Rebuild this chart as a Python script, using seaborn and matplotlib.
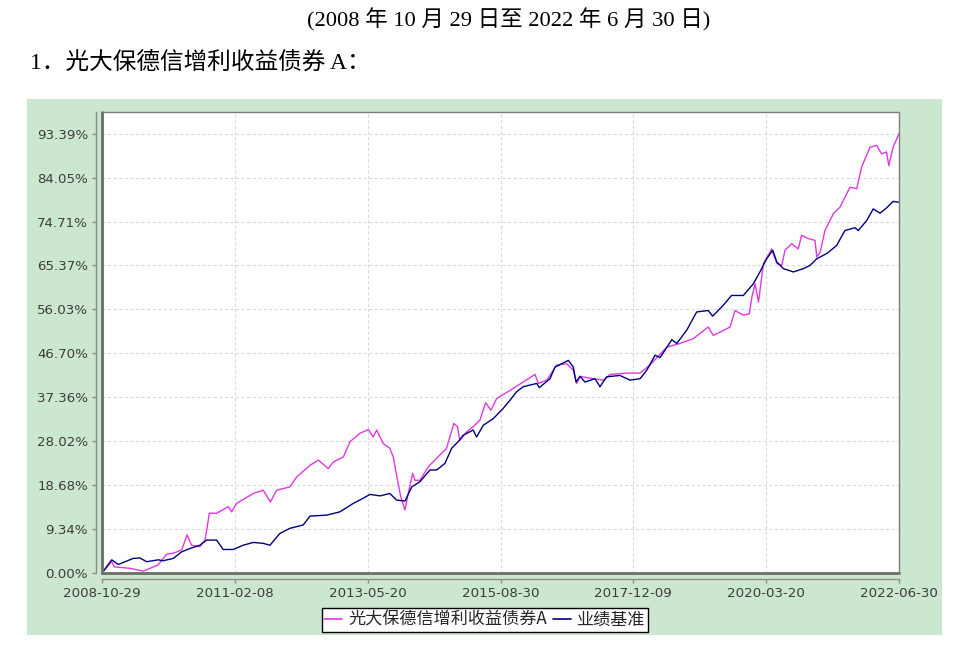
import pandas as pd
import matplotlib
matplotlib.use('Agg')
import matplotlib.pyplot as plt
import seaborn as sns
from matplotlib.patches import Rectangle
from matplotlib.lines import Line2D

# series names
fund_name = '光大保德信增利收益债券A'
bench_name = '业绩基准'

# cumulative return of the fund (%)
fund_dates = ['2008-10-29', '2008-12-29', '2009-01-15', '2009-04-20', '2009-07-15', '2009-10-15',
              '2009-12-08', '2010-01-18', '2010-03-12', '2010-04-15', '2010-05-13', '2010-07-04',
              '2010-08-05', '2010-08-19', '2010-09-01', '2010-10-17', '2010-12-29', '2011-01-19',
              '2011-02-19', '2011-06-03', '2011-08-05', '2011-09-19', '2011-10-27', '2012-01-19',
              '2012-03-01', '2012-05-24', '2012-07-15', '2012-09-15', '2012-10-17', '2012-12-19',
              '2013-01-29', '2013-04-01', '2013-05-24', '2013-06-24', '2013-07-15', '2013-08-26',
              '2013-10-06', '2013-10-27', '2013-11-11', '2013-11-27', '2013-12-13', '2014-01-09',
              '2014-01-29', '2014-02-26', '2014-03-12', '2014-04-12', '2014-06-04', '2014-07-26',
              '2014-09-26', '2014-11-11', '2014-12-04', '2014-12-18', '2015-01-30', '2015-03-12',
              '2015-04-23', '2015-05-29', '2015-07-01', '2015-08-06', '2015-10-28', '2016-01-19',
              '2016-04-02', '2016-04-23', '2016-06-15', '2016-08-16', '2016-10-18', '2016-11-28',
              '2016-12-19', '2017-01-09', '2017-04-02', '2017-06-05', '2017-07-16', '2017-10-29',
              '2018-01-20', '2018-03-23', '2018-07-06', '2018-09-27', '2018-12-19', '2019-03-23',
              '2019-04-24', '2019-06-05', '2019-08-07', '2019-09-07', '2019-10-29', '2019-12-05',
              '2019-12-22', '2020-01-11', '2020-02-01', '2020-03-03', '2020-04-13', '2020-04-23',
              '2020-05-26', '2020-06-26', '2020-07-16', '2020-08-27', '2020-10-07', '2020-10-28',
              '2020-12-08', '2021-01-20', '2021-01-31', '2021-02-21', '2021-03-23', '2021-05-15',
              '2021-06-26', '2021-08-27', '2021-10-08', '2021-11-08', '2021-12-30', '2022-02-10',
              '2022-03-13', '2022-04-13', '2022-04-27', '2022-05-24', '2022-06-30']
fund_values = [0.0, 2.4, 1.3, 1.0, 0.4, 1.7,
               4.0, 4.2, 4.9, 8.1, 5.9, 5.6,
               7.0, 9.8, 12.7, 12.7, 14.1, 13.0,
               14.8, 16.9, 17.6, 15.1, 17.6, 18.3,
               20.4, 22.9, 24.0, 22.2, 23.6, 24.7,
               27.9, 29.7, 30.5, 28.9, 30.4, 27.5,
               26.5, 24.7, 21.9, 19.0, 16.2, 13.4,
               16.9, 21.2, 19.7, 19.7, 22.6, 24.4,
               26.5, 31.8, 31.1, 28.2, 30.0, 31.1,
               32.5, 36.2, 34.6, 37.1, 38.8, 40.6,
               42.2, 40.3, 41.0, 44.2, 44.5, 43.1,
               40.3, 41.8, 41.3, 41.0, 42.2, 42.5,
               42.5, 44.2, 48.0, 48.8, 49.8, 52.3,
               50.5, 51.2, 52.3, 55.8, 54.8, 55.1,
               58.7, 61.5, 57.6, 65.8, 68.2, 68.9,
               65.8, 65.4, 68.6, 70.0, 68.9, 71.8,
               71.1, 70.7, 67.2, 68.2, 72.8, 76.4,
               77.8, 82.0, 81.7, 86.3, 90.5, 90.9,
               89.1, 89.5, 86.6, 90.5, 93.4]

# cumulative return of the benchmark (%)
bench_dates = ['2008-10-29', '2008-12-29', '2009-02-08', '2009-05-12', '2009-06-23', '2009-08-05',
               '2009-10-16', '2009-11-16', '2010-01-18', '2010-03-12', '2010-05-02', '2010-07-04',
               '2010-08-15', '2010-10-17', '2010-11-27', '2011-01-28', '2011-04-01', '2011-06-03',
               '2011-08-05', '2011-09-16', '2011-11-17', '2012-01-19', '2012-04-11', '2012-05-24',
               '2012-09-05', '2012-11-27', '2013-02-19', '2013-04-22', '2013-06-03', '2013-08-05',
               '2013-10-06', '2013-11-17', '2014-01-09', '2014-02-20', '2014-04-12', '2014-06-14',
               '2014-07-26', '2014-09-16', '2014-10-28', '2014-12-07', '2015-01-09', '2015-03-12',
               '2015-04-02', '2015-05-14', '2015-07-15', '2015-09-16', '2015-10-28', '2015-12-08',
               '2016-01-19', '2016-04-13', '2016-04-29', '2016-07-05', '2016-08-06', '2016-10-28',
               '2016-11-28', '2016-12-15', '2017-01-09', '2017-02-09', '2017-04-13', '2017-05-14',
               '2017-06-25', '2017-09-16', '2017-11-18', '2018-01-20', '2018-03-03', '2018-04-24',
               '2018-05-26', '2018-08-07', '2018-09-07', '2018-11-08', '2019-01-10', '2019-03-23',
               '2019-04-20', '2019-06-25', '2019-08-16', '2019-10-29', '2019-12-31', '2020-02-10',
               '2020-03-23', '2020-04-30', '2020-05-26', '2020-07-06', '2020-09-07', '2020-11-08',
               '2020-12-20', '2021-01-31', '2021-04-03', '2021-06-04', '2021-07-26', '2021-09-27',
               '2021-10-18', '2021-12-09', '2022-01-20', '2022-03-03', '2022-04-13', '2022-05-24',
               '2022-06-30']
bench_values = [0.0, 2.8, 1.8, 3.1, 3.2, 2.4,
                2.8, 2.6, 3.1, 4.5, 5.2, 5.9,
                7.0, 7.0, 5.0, 5.0, 5.9, 6.5,
                6.3, 5.9, 8.4, 9.5, 10.2, 12.1,
                12.3, 13.0, 14.8, 15.9, 16.7, 16.4,
                16.9, 15.5, 15.3, 18.3, 19.4, 21.9,
                21.9, 23.3, 26.5, 27.9, 29.3, 30.4,
                28.9, 31.4, 32.8, 35.0, 36.7, 38.5,
                39.6, 40.3, 39.4, 41.3, 43.8, 45.2,
                43.8, 40.6, 41.8, 40.6, 41.3, 39.6,
                41.7, 42.0, 41.0, 41.3, 43.1, 46.3,
                45.8, 49.6, 48.8, 51.6, 55.5, 55.8,
                54.6, 56.9, 59.0, 59.0, 61.5, 64.0,
                66.8, 68.6, 66.1, 64.7, 64.0, 64.7,
                65.4, 66.8, 67.9, 69.6, 72.8, 73.4,
                72.8, 74.9, 77.4, 76.5, 77.6, 79.0,
                78.8]

# axis ticks
x_tick_dates = ['2008-10-29', '2011-02-08', '2013-05-20', '2015-08-30', '2017-12-09', '2020-03-20', '2022-06-30']
y_tick_values = [0.0, 9.339, 18.678, 28.017, 37.356, 46.695, 56.034, 65.373, 74.712, 84.051, 93.39]
y_tick_labels = ['0.00%', '9.34%', '18.68%', '28.02%', '37.36%', '46.70%', '56.03%',
                 '65.37%', '74.71%', '84.05%', '93.39%']

df = pd.concat([
    pd.DataFrame({'date': pd.to_datetime(fund_dates), 'value': fund_values, 'series': fund_name}),
    pd.DataFrame({'date': pd.to_datetime(bench_dates), 'value': bench_values, 'series': bench_name}),
])

sns.set_theme(style='white')
plt.rcParams['font.family'] = ['DejaVu Sans', 'Noto Sans CJK SC']

W, H = 975, 665
fig = plt.figure(figsize=(W / 100, H / 100), dpi=100, facecolor='white')

# light green panel behind the chart
fig.patches.append(Rectangle((27 / W, 1 - 635 / H), (942 - 27) / W, (635 - 99) / H,
                             transform=fig.transFigure, facecolor='#cce7cf', edgecolor='none', zorder=-10))

serif_cjk = ['Liberation Serif', 'Noto Sans CJK SC']
fig.text(509 / W, 1 - 20 / H, '(2008 年 10 月 29 日至 2022 年 6 月 30 日)', ha='center', va='center',
         fontsize=16.2, family=serif_cjk, color='black')
fig.text(30 / W, 1 - 63 / H, '1．光大保德信增利收益债券 A：', ha='left', va='center',
         fontsize=17, family=serif_cjk, color='black')

ax = fig.add_axes([102 / W, 1 - 573 / H, (899 - 102) / W, (573 - 112) / H])
ax.set_facecolor('white')

palette = {fund_name: '#e038e0', bench_name: '#000080'}
sns.lineplot(data=df, x='date', y='value', hue='series', hue_order=[fund_name, bench_name],
             palette=palette, linewidth=1.0, ax=ax, legend=False, zorder=3)

xt = pd.to_datetime(x_tick_dates)
ax.set_xlim(xt[0], xt[-1])
ax.set_ylim(0, 98.0)
ax.set_xticks(xt)
ax.set_xticklabels(x_tick_dates)
ax.set_yticks(y_tick_values)
ax.set_yticklabels(y_tick_labels)
ax.set_xlabel('')
ax.set_ylabel('')

ax.grid(True, color='#dadada', linestyle=(0, (3, 2)), linewidth=0.8)
ax.set_axisbelow(True)

# offset axis lines like the original chart
for side in ['top', 'right']:
    ax.spines[side].set_visible(False)
for side in ['left', 'bottom']:
    ax.spines[side].set_position(('outward', 4))
    ax.spines[side].set_color('#8c8c8c')
    ax.spines[side].set_linewidth(1.0)

ax.tick_params(axis='both', which='both', bottom=True, left=True, direction='out', length=3,
               width=1, color='#8c8c8c', labelsize=9.6, labelcolor='#3c3c3c', pad=3)

# plot border
ax.add_patch(Rectangle((0, 0), 1, 1, transform=ax.transAxes, fill=False, edgecolor='#7a7f7a',
                       linewidth=1, clip_on=False, zorder=5))
ax.add_line(Line2D([0, 0], [0, 1], transform=ax.transAxes, color='#6a706a', linewidth=2, clip_on=False, zorder=5))
ax.add_line(Line2D([0, 1], [0, 0], transform=ax.transAxes, color='#6a706a', linewidth=2, clip_on=False, zorder=5))

handles = [Line2D([], [], color=palette[fund_name], linewidth=1.2),
           Line2D([], [], color=palette[bench_name], linewidth=1.2)]
leg = ax.legend(handles, [fund_name, bench_name], loc='center',
                bbox_to_anchor=((485 - 102) / (899 - 102), (573 - 620) / (573 - 112)),
                ncol=2, frameon=True, fancybox=False, edgecolor='black', facecolor='white',
                framealpha=1, fontsize=12.3, handlelength=1.05, handletextpad=0.35,
                columnspacing=0.35, borderpad=0.15, borderaxespad=0)
leg.get_frame().set_linewidth(1.0)
for t in leg.get_texts():
    t.set_family(['Noto Sans CJK SC', 'DejaVu Sans'])

fig.savefig('out.png', dpi=100, facecolor='white')
